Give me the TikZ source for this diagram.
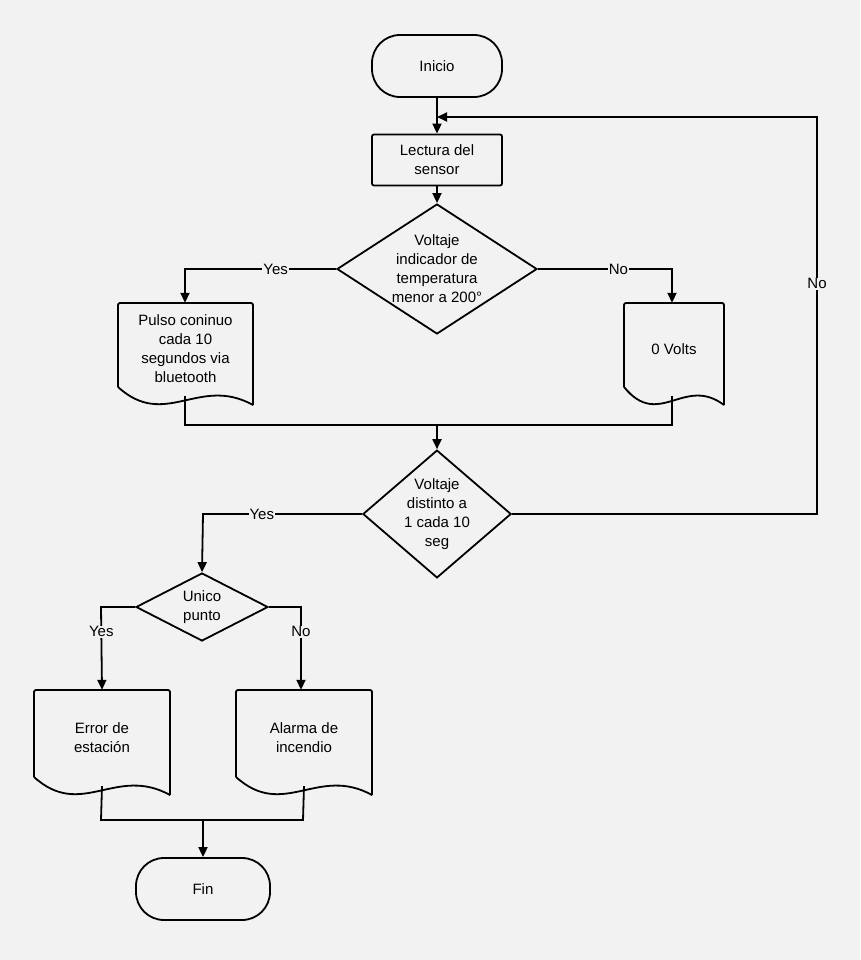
\documentclass[tikz,border=0pt]{standalone}
\usepackage{fontspec}
\setmainfont{Liberation Sans}
\usetikzlibrary{shapes.geometric,arrows.meta}
\begin{document}
\begin{tikzpicture}[x=1pt,y=-1pt,
  every node/.style={font=\fontsize{15}{19}\selectfont, align=center},
  line/.style={line width=1.8pt, black},
  arr/.style={line, -{Triangle[length=10pt,width=9pt]}},
  term/.style={draw, line width=1.8pt, rounded corners=28pt, minimum width=130pt, minimum height=62pt},
  proc/.style={draw, line width=1.8pt, rounded corners=2pt, minimum width=130pt, minimum height=51pt},
  dec/.style={draw, line width=1.8pt, diamond, inner sep=0pt},
  docbox/.style={draw=none, inner sep=0pt},
  lab/.style={fill=bggray, inner sep=1pt}]
\definecolor{bggray}{HTML}{F2F2F2}
\fill[bggray] (0,0) rectangle (860,960);
\useasboundingbox (0,0) rectangle (860,960);
\newcommand\docshape[6]{%
  \node[docbox, minimum width={#3-#2}, minimum height={#5-#4}] (#1) at ({(#2+#3)/2},{(#4+#5)/2}) {};
  \node at ({(#2+#3)/2},{(#4+#5-10)/2}) {#6};
  \draw[line, rounded corners=2pt] (#2,#5-18) -- (#2,#4) -- (#3,#4) -- (#3,#5);
  \draw[line] (#2,#5-18) .. controls ({#2+0.35*(#3-#2)},#5+25) and ({#2+0.6*(#3-#2)},#5-30) .. (#3,#5);
}
\node[term] (inicio) at (437,66) {Inicio};
\node[proc] (lect) at (437,160) {Lectura del\\sensor};
\node[dec, minimum width=200pt, minimum height=130pt, aspect=1.54] (d1) at (437,269) {Voltaje\\indicador de\\temperatura\\menor a 200°};
\docshape{doc1}{118}{253}{303}{405}{Pulso coninuo\\cada 10\\segundos via\\bluetooth}
\docshape{doc2}{624}{724}{303}{405}{0 Volts}
\node[dec, minimum width=132pt, minimum height=114pt, aspect=1.16] (d2) at (437,514) {Voltaje\\distinto a\\1 cada 10\\seg};
\node[dec, minimum width=132pt, minimum height=68pt, aspect=1.94] (d3) at (202,607) {Unico\\punto};
\docshape{doc3}{34}{170}{690}{795}{Error de\\estación}
\docshape{doc4}{236}{372}{690}{795}{Alarma de\\incendio}
\node[term, minimum width=134pt] (fin) at (203,889) {Fin};
\coordinate (m1) at (437,425);
\coordinate (m2) at (203,820);
\coordinate (loop) at (437,117);

\draw[arr] (inicio) -- (lect);
\draw[arr] (lect) -- (d1);
\draw[arr] (d1.west) -- (185,269) node[lab, pos=0.4] {Yes} -- (doc1.north -| 185,0);
\draw[arr] (d1.east) -- (672,269) node[lab, pos=0.6] {No} -- (doc2.north -| 672,0);
\draw[line] ([yshift=9pt]doc1.south -| 185,0) -- (185,425) -- (672,425) -- ([yshift=9pt]doc2.south -| 672,0);
\draw[arr] (m1) -- (d2);
\draw[arr] (d2.east) -- (817,514) -- (817,117) node[lab, pos=0.58] {No} -- (loop);
\draw[arr] (d2.west) -- (203,514) node[lab, pos=0.63] {Yes} -- (d3.north);
\draw[arr] (d3.west) -- (101,607) -- (doc3.north) node[lab, pos=0.3] {Yes};
\draw[arr] (d3.east) -- (301,607) -- (doc4.north -| 301,0) node[lab, pos=0.3] {No};
\draw[line] ([yshift=9pt]doc3.south) -- (101,820) -- (303,820) -- ([yshift=9pt]doc4.south);
\draw[arr] (m2) -- (fin);
\end{tikzpicture}
\end{document}
